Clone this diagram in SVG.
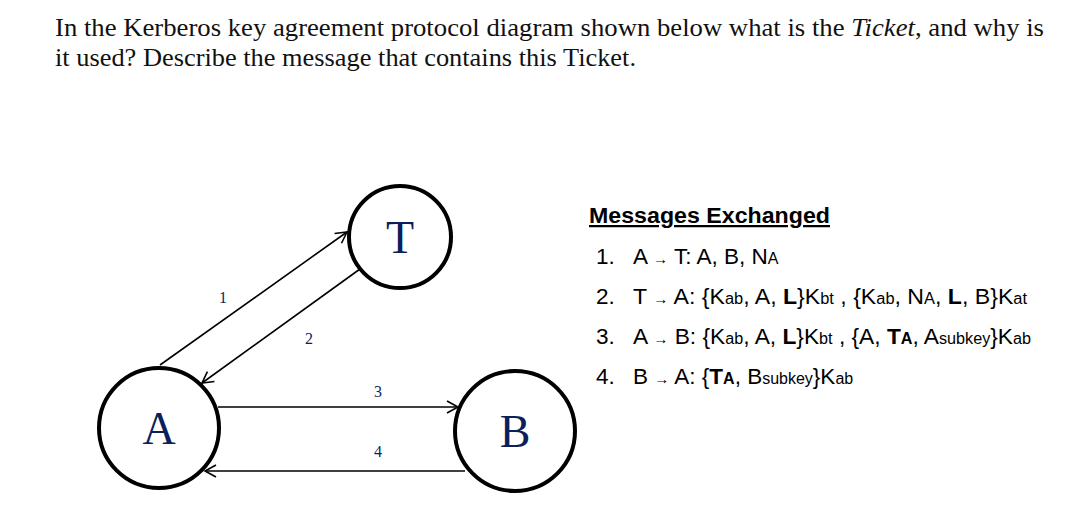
<svg xmlns="http://www.w3.org/2000/svg" width="1091" height="517" viewBox="0 0 1091 517">
<style>
.q{font-family:"Liberation Serif",serif;font-size:26px;fill:#111}
.node{fill:#fff;stroke:#000;stroke-width:4}
.nl{font-family:"Liberation Serif",serif;font-size:46px;fill:#0b1f5c;text-anchor:middle}
.el{font-family:"Liberation Serif",serif;font-size:16px;fill:#0b1f5c;text-anchor:middle}
.c{stroke:#000;stroke-width:1.6;fill:none}
.m{font-family:"Liberation Sans",sans-serif;font-size:22.5px;fill:#000}
.s{font-size:16px}
.ar{font-size:15px}
.b{font-weight:bold}
</style>
<defs>
<marker id="ar" markerWidth="14" markerHeight="14" refX="12" refY="7" orient="auto" markerUnits="userSpaceOnUse">
<path d="M1,1 L12,7 L1,13" fill="none" stroke="#000" stroke-width="1.6"/>
</marker>
</defs>
<text class="q" x="55" y="36" textLength="989" lengthAdjust="spacingAndGlyphs">In the Kerberos key agreement protocol diagram shown below what is the <tspan font-style="italic">Ticket</tspan>, and why is</text>
<text class="q" x="55" y="66" textLength="581" lengthAdjust="spacingAndGlyphs">it used? Describe the message that contains this Ticket.</text>
<g id="connectors">
<line class="c" x1="160" y1="365" x2="347" y2="232" marker-end="url(#ar)"/>
<line class="c" x1="360" y1="269" x2="202" y2="383" marker-end="url(#ar)"/>
<line class="c" x1="218" y1="407" x2="458" y2="407" marker-end="url(#ar)"/>
<line class="c" x1="465" y1="471" x2="205" y2="471" marker-end="url(#ar)"/>
<text class="el" x="223" y="303">1</text>
<text class="el" x="309" y="344">2</text>
<text class="el" x="378" y="397">3</text>
<text class="el" x="378" y="457">4</text>
</g>
<g id="T"><circle class="node" cx="400" cy="237" r="51"/><text class="nl" x="400" y="253">T</text></g>
<g id="A"><circle class="node" cx="159" cy="428" r="60"/><text class="nl" x="159" y="444">A</text></g>
<g id="B"><circle class="node" cx="515" cy="431" r="60"/><text class="nl" x="515" y="447">B</text></g>
<g id="messages">
<text class="m b" x="589" y="223" text-decoration="underline" textLength="241" lengthAdjust="spacingAndGlyphs">Messages Exchanged</text>
<text class="m" x="596" y="264">1.</text>
<text class="m" x="633" y="264">A <tspan class="ar">→</tspan> T: A, B, N<tspan class="s">A</tspan></text>
<text class="m" x="596" y="304">2.</text>
<text class="m" x="633" y="304" textLength="394" lengthAdjust="spacingAndGlyphs">T <tspan class="ar">→</tspan> A: {K<tspan class="s">ab</tspan>, A, <tspan class="b">L</tspan>}K<tspan class="s">bt</tspan> , {K<tspan class="s">ab</tspan>, N<tspan class="s">A</tspan>, <tspan class="b">L</tspan>, B}K<tspan class="s">at</tspan></text>
<text class="m" x="596" y="344">3.</text>
<text class="m" x="633" y="344" textLength="398" lengthAdjust="spacingAndGlyphs">A <tspan class="ar">→</tspan> B: {K<tspan class="s">ab</tspan>, A, <tspan class="b">L</tspan>}K<tspan class="s">bt</tspan> , {A, <tspan class="b">T<tspan class="s">A</tspan></tspan>, A<tspan class="s">subkey</tspan>}K<tspan class="s">ab</tspan></text>
<text class="m" x="596" y="384">4.</text>
<text class="m" x="633" y="384">B <tspan class="ar">→</tspan> A: {<tspan class="b">T<tspan class="s">A</tspan></tspan>, B<tspan class="s">subkey</tspan>}K<tspan class="s">ab</tspan></text>
</g>
</svg>
